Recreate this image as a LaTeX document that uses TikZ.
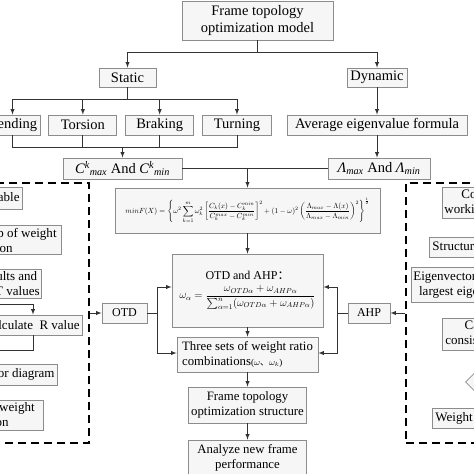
\documentclass[tikz,border=0pt]{standalone}
\usepackage{fontspec}
\setmainfont{Liberation Serif}
\newfontfamily\cjk{Noto Sans CJK SC}
\usepackage{amsmath}
\usetikzlibrary{positioning}
\usetikzlibrary{shapes.geometric}
\definecolor{boxline}{HTML}{8C8C8C}
\definecolor{boxfill}{HTML}{F6F6F6}
\definecolor{linkcol}{HTML}{333333}
\newcommand{\bigtext}{\fontsize{14.5bp}{17bp}\selectfont}
\newcommand{\sidetext}{\fontsize{13bp}{15bp}\selectfont}
\newcommand{\lowtext}{\fontsize{12.8bp}{15bp}\selectfont}
\newcommand{\tagtext}{\fontsize{12bp}{14bp}\selectfont}

\begin{document}
\begin{tikzpicture}[x=1bp, y=-1bp, >=latex,
flowbox/.style={draw=boxline, fill=boxfill, line width=0.8bp, inner sep=2bp, minimum height=20bp, align=center},
sidebox/.style={flowbox, font=\sidetext, inner xsep=3bp},
groupbox/.style={draw=black, line width=1.8bp, dash pattern=on 8bp off 5bp, minimum height=260bp},
link/.style={draw=linkcol, line width=0.9bp}]
\useasboundingbox (0,0) rectangle (474,474);
\clip (0,0) rectangle (474,474);

\node[flowbox, font=\bigtext, minimum width=151bp, minimum height=39bp] (model) at (257.5,20.5) {Frame topology\\optimization model};
\node[flowbox, font=\bigtext, minimum width=57bp, minimum height=19bp] (static) at (127.5,77.5) {Static};
\node[flowbox, font=\bigtext, minimum width=60bp, minimum height=19bp] (dynamic) at (377,77.5) {Dynamic};
\node[flowbox, font=\bigtext, inner xsep=3bp] (bending) at (12.5,125) {Bending};
\node[flowbox, font=\bigtext, minimum width=68bp] (torsion) [right=8bp of bending] {Torsion};
\node[flowbox, font=\bigtext, minimum width=68bp] (braking) [right=8bp of torsion] {Braking};
\node[flowbox, font=\bigtext, minimum width=69bp] (turning) [right=8bp of braking] {Turning};
\node[flowbox, font=\bigtext, minimum width=180bp] (avg) at (377,125) {Average eigenvalue formula};
\node[flowbox, font=\bigtext, minimum width=119bp, minimum height=21bp] (cmax) at (122.5,168.5) {$\mathit{C}^{\mathit{k}}{}_{\mathit{max}}$ And $\mathit{C}^{\mathit{k}}{}_{\mathit{min}}$};
\node[flowbox, font=\bigtext, minimum width=102bp, minimum height=21bp] (lmax) at (379,168.5) {\textit{Λ}$_{\mathit{max}}$ And \textit{Λ}$_{\mathit{min}}$};

\node[flowbox, minimum width=265bp, minimum height=45bp] (minf) at (247.5,210.5) {\resizebox{244bp}{!}{$\displaystyle minF(X)=\left\{\omega^2\sum_{k=1}^{m}\omega_k^2\left[\frac{C_k(x)-C_k^{min}}{C_k^{max}-C_k^{min}}\right]^2+(1-\omega)^2\left(\frac{\Lambda_{max}-\Lambda(x)}{\Lambda_{max}-\Lambda_{min}}\right)^2\right\}^{\frac{1}{2}}$}};
\node[flowbox, font=\tagtext, minimum width=151bp, minimum height=73bp] (otdahp) at (247.5,290.5) {OTD and AHP{\cjk ：}\\[5bp]\resizebox{136bp}{!}{$\omega_\alpha=\dfrac{\omega_{OTD\alpha}+\omega_{AHP\alpha}}{\sum_{\alpha=1}^{n}(\omega_{OTD\alpha}+\omega_{AHP\alpha})}$}};
\node[flowbox, font=\tagtext, minimum width=45bp] (otd) at (124.5,313) {OTD};
\node[flowbox, font=\tagtext, minimum width=42bp] (ahp) at (369,313) {AHP};
\node[flowbox, font=\lowtext, align=left, minimum width=141bp, minimum height=35bp] (three) at (247.5,354.5) {Three sets of weight ratio\\combinations{\fontsize{9bp}{11bp}\selectfont($\omega${\cjk 、}$\omega_k$)}};
\node[flowbox, font=\lowtext, minimum width=118bp, minimum height=36bp] (struct) at (247.5,405) {Frame topology\\optimization structure};
\node[flowbox, font=\lowtext, minimum width=118bp, minimum height=36bp] (analyze) at (247.5,458) {Analyze new frame\\performance};

% dashed groups
\node[groupbox, minimum width=110bp] (lgroup) at (34,313) {};
\node[groupbox, minimum width=110bp] (rgroup) at (461,313) {};

% left group
\node[sidebox, anchor=east, minimum height=22bp] (l1) at (23,198.5) {Orthogonal table};
\node[sidebox, anchor=east, minimum height=28bp, inner xsep=5bp] (l2) at (62,240) {Establish the group of weight\\combination};
\node[sidebox, anchor=east, minimum height=29bp, inner xsep=2bp] (l3) at (42,283.5) {Test results and\\Sum of T values};
\node[sidebox, anchor=east] (l4) at (83,325) {Calculate\ \ R value};
\node[sidebox, anchor=east, minimum height=21bp] (l5) at (58,374.5) {Factor diagram};
\node[sidebox, anchor=east, minimum height=30bp, inner xsep=9bp] (l6) at (44,415) {Obtain optimal weight\\combination};

% right group
\node[sidebox, anchor=west, minimum height=29bp, inner xsep=2bp] (r1) at (442,202.5) {Compare the\\working conditions};
\node[sidebox, anchor=west] (r2) at (429,247) {Structural hierarchy model};
\node[sidebox, anchor=west, minimum height=35bp, inner xsep=2bp] (r3) at (411,284.5) {Eigenvectors for the\\largest eigenvalue};
\node[sidebox, anchor=west, minimum height=32bp] (r4) at (442,334) {Calculate\\consistency ratio};
\node[sidebox, shape=diamond, anchor=west, minimum width=60bp, minimum height=44bp] (r5) at (465,382) {CR<0.1};
\node[sidebox, anchor=west] (r6) at (432,418) {Weight vector};

\draw[link,->] (model.south) -- ++(0,12) -| (static.north);
\draw[link,->] (model.south) -- ++(0,12) -| (dynamic.north);
\foreach \n in {bending,torsion,braking,turning}
  \draw[link,->] (static.south) -- ++(0,12) -| (\n.north);
\coordinate (cjoin) at (122.5,147);
\foreach \n in {bending,torsion,braking,turning}
  \draw[link] (\n.south) |- (cjoin);
\draw[link,->] (cjoin) -- (cmax.north);
\draw[link,->] (dynamic.south) -- (avg.north);
\draw[link,->] (avg.south) -- (avg.south |- lmax.north);
\draw[link] (cmax.east) -- (lmax.west);
\draw[link,->] (minf.north |- cmax.east) -- (minf.north);
\draw[link,->] (minf.south) -- (otdahp.north);
\draw[link,->] (otdahp.south) -- (three.north);
\draw[link,->] (three.south) -- (struct.north);
\draw[link,->] (struct.south) -- (analyze.north);
\draw[link,->] (lgroup.east) -- (otd.west);
\draw[link,->] (rgroup.west) -- (ahp.east);
\draw[link,->] (otd.east) -- ++(10,0) |- ([yshift=3.5bp]otdahp.west);
\draw[link,->] (otd.east) -- ++(10,0) |- ([yshift=1.5bp]three.west);
\draw[link,->] (ahp.west) -- ++(-10,0) |- ([yshift=3.5bp]otdahp.east);
\draw[link,->] (ahp.west) -- ++(-10,0) |- ([yshift=1.5bp]three.east);

% loop round the R value box
\coordinate (loopin) at (-5,304);
\coordinate (loopout) at (-5,350);
\coordinate (loopx) at (33,0);
\draw[link,->] (loopin) -| (loopx |- l4.north);
\draw[link] (loopx |- l4.south) |- (loopout);
\end{tikzpicture}
\end{document}
